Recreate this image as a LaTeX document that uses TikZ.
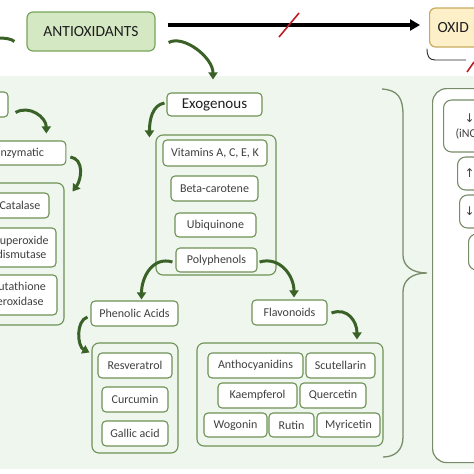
\documentclass[tikz,border=0pt]{standalone}
\usepackage{fontspec}
\setmainfont{Carlito}
\newfontfamily\djv{DejaVu Sans}
\usetikzlibrary{arrows.meta}
\definecolor{panel}{RGB}{238,246,238}
\definecolor{bord}{RGB}{110,145,85}
\definecolor{antfill}{RGB}{213,232,196}
\definecolor{antbord}{RGB}{120,165,90}
\definecolor{oxfill}{RGB}{253,240,200}
\definecolor{oxbord}{RGB}{200,170,95}
\definecolor{arrg}{RGB}{58,98,38}
\definecolor{brc}{RGB}{120,140,105}
\definecolor{txt}{RGB}{64,64,64}
\definecolor{dtxt}{RGB}{30,30,30}
\definecolor{brk}{RGB}{40,40,40}
\definecolor{slash}{RGB}{190,30,40}
\begin{document}
\begin{tikzpicture}[x=1pt,y=-1pt,
  box/.style={draw=bord, fill=white, rounded corners=4pt, line width=1.1pt, inner sep=0pt,
    font=\fontsize{12}{14.5}\selectfont, text=txt, align=center},
  grp/.style={draw=bord, rounded corners=7pt, line width=1.1pt, inner sep=0pt},
  rbox/.style={draw=brc, fill=white, rounded corners=8pt, line width=1.1pt, inner ysep=0pt,
    font=\fontsize{12}{15}\selectfont, text=txt, align=left, anchor=west},
  carrow/.style={draw=arrg, line width=3pt, -{Triangle[length=7pt,width=9pt]}},
  carline/.style={draw=arrg, line width=3pt},
  blk/.style={draw=black, line width=3.5pt, -{Triangle[length=10pt,width=11pt]}},
  redslash/.style={draw=slash, line width=1.6pt}]
\useasboundingbox (0,0) rectangle (474,474);
\clip (0,0) rectangle (474,474);
\fill[panel] (0,76) rectangle (474,469);

% top row
\node[draw=antbord, fill=antfill, rounded corners=6pt, line width=1.2pt, inner sep=0pt,
  minimum width=128pt, minimum height=39pt, font=\fontsize{15.5}{17}\selectfont, text=dtxt] (ant) at (91,31.5) {ANTIOXIDANTS};
\node[draw=oxbord, fill=oxfill, rounded corners=6pt, line width=1.2pt, inner ysep=0pt, inner xsep=8pt,
  minimum height=39pt, text width=70pt, align=left, anchor=west,
  font=\fontsize{15.5}{17}\selectfont, text=dtxt] (ox) at (429,27.5) {OXID};
\draw[blk] ([shift={(12,-6.5)}]ant.east) -- ([shift={(-9,-2.5)}]ox.west);
\coordinate (m1) at (289,25);
\draw[redslash] ([shift={(-10,12)}]m1) -- ([shift={(10,-12)}]m1);
\draw[line width=0.9pt, draw=brk] ([shift={(-2,1)}]ox.south west) .. controls (427,56) and (429,60) .. (435,60) -- (466,60);
\coordinate (m2) at (470.5,67);
\draw[redslash] ([shift={(-3.5,5)}]m2) -- ([shift={(3.5,-5)}]m2);

% left column
\node[box, minimum width=88pt, minimum height=25pt] (endo) at (-36,104.5) {};
\node[box, minimum width=93pt, minimum height=24pt] (enz) at (19.3,153) {Enzymatic};
\node[grp, minimum width=134pt, minimum height=142pt] (eng) at (-3,254) {};
\node[box, minimum width=58pt, minimum height=25pt] (cat) at (20,205.5) {Catalase};
\node[box, minimum width=69pt, minimum height=39pt] (sod) at (21.5,247.5) {Superoxide\\dismutase};
\node[box, minimum width=80pt, minimum height=40pt] (gpx) at (17,295) {Glutathione\\peroxidase};
\coordinate (offl) at (-12,40);
\draw[carline] ([shift={(-12,10)}]ant.west) .. controls +(-6,-5) and +(6,-2) .. (offl);
\draw[carrow] ([shift={(7,8)}]endo.east) .. controls +(14,-8) and +(0,-16) .. ([shift={(27,-7)}]enz.north);
\draw[carrow] ([shift={(4,4)}]enz.east) .. controls +(14,2) and +(9,-12) .. ([shift={(8,9)}]eng.north east);

% exogenous column
\node[box, minimum width=95pt, minimum height=23pt, font=\fontsize{15}{17}\selectfont, text=dtxt] (exo) at (214.5,104.5) {Exogenous};
\node[grp, minimum width=120pt, minimum height=140pt] (exg) at (216,205) {};
\node[box, minimum width=104pt, minimum height=26pt] (vit) at (215,153) {Vitamins A, C, E, K};
\node[box, minimum width=87pt, minimum height=25pt] (bet) at (214.5,188.5) {Beta-carotene};
\node[box, minimum width=81pt, minimum height=24pt] (ubi) at (215.5,225) {Ubiquinone};
\node[box, minimum width=81pt, minimum height=24pt] (poly) at (216.5,260) {Polyphenols};
\draw[carrow] ([shift={(13,11)}]ant.east) .. controls +(15,-8) and +(0,-22) .. ([shift={(-1.5,-13)}]exo.north);
\draw[carrow] ([shift={(-2,-1.5)}]exo.west) .. controls +(-12,2) and +(0,-18) .. ([shift={(-6,3)}]exg.north west);

% phenolic acids
\node[box, minimum width=87pt, minimum height=25pt] (pa) at (134.5,313.5) {Phenolic Acids};
\node[grp, minimum width=86pt, minimum height=110pt] (pag) at (135,398) {};
\node[box, minimum width=74pt, minimum height=25pt] (res) at (135,365.5) {Resveratrol};
\node[box, minimum width=66pt, minimum height=25pt] (cur) at (135,399.5) {Curcumin};
\node[box, minimum width=66pt, minimum height=25pt] (gal) at (135,433.5) {Gallic acid};

% flavonoids
\node[box, minimum width=75pt, minimum height=25pt] (fl) at (289.5,312.5) {Flavonoids};
\node[grp, minimum width=186pt, minimum height=103pt] (flg) at (290,394.5) {};
\node[box, minimum width=95pt, minimum height=25pt] (ant2) at (255.5,365.5) {Anthocyanidins};
\node[box, minimum width=69pt, minimum height=25pt] (scu) at (340.5,365.5) {Scutellarin};
\node[box, minimum width=79pt, minimum height=25pt] (kae) at (257.5,395.5) {Kaempferol};
\node[box, minimum width=66pt, minimum height=25pt] (que) at (333,395.5) {Quercetin};
\node[box, minimum width=63pt, minimum height=24pt] (wog) at (235.5,425) {Wogonin};
\node[box, minimum width=45pt, minimum height=24pt] (rut) at (291.5,425) {Rutin};
\node[box, minimum width=63pt, minimum height=24pt] (myr) at (348.5,425) {Myricetin};

\draw[carrow] ([shift={(-3,2)}]poly.west) .. controls +(-20,-6) and +(0,-22) .. ([shift={(7,-1)}]pa.north);
\draw[carrow] ([shift={(2,2)}]poly.east) .. controls +(20,-6) and +(0,-22) .. ([shift={(4.5,-2)}]fl.north);
\draw[carrow] ([shift={(-3,3.5)}]pa.west) .. controls +(-12,4) and +(-12,-6) .. ([shift={(-2,10)}]pag.north west);
\draw[carrow] ([shift={(4,0.5)}]fl.east) .. controls +(16,-6) and +(0,-18) .. ([shift={(67,-3)}]flg.north);

% big brace
\draw[draw=brc, line width=1.3pt] (382,89) .. controls (398,90) and (403,98) .. (403,115) -- (403,255)
  .. controls (403,266) and (412,273) .. (427,273) .. controls (412,273) and (403,280) .. (403,292)
  -- (403,437) .. controls (403,450) and (395,457) .. (383,457);

% right panel
\node[draw=brc, fill=white, rounded corners=14pt, line width=1.2pt, inner sep=0pt,
  minimum width=100pt, minimum height=374pt, anchor=north west] (rp) at (432,88) {};
\node[rbox, minimum height=52pt, inner xsep=12pt, text width=60pt] (r1) at (443,126) {\hspace*{9pt}{\djv ↓}\\(iNC};
\node[rbox, minimum height=33pt, inner xsep=7pt, text width=50pt] (r2) at (457,173.5) {{\djv ↑}};
\node[rbox, minimum height=33pt, inner xsep=5pt, text width=50pt] (r3) at (459,211.5) {{\djv ↓}};
\node[rbox, minimum height=36pt, inner xsep=5pt, text width=50pt] (r4) at (468,252) {};
\end{tikzpicture}
\end{document}
